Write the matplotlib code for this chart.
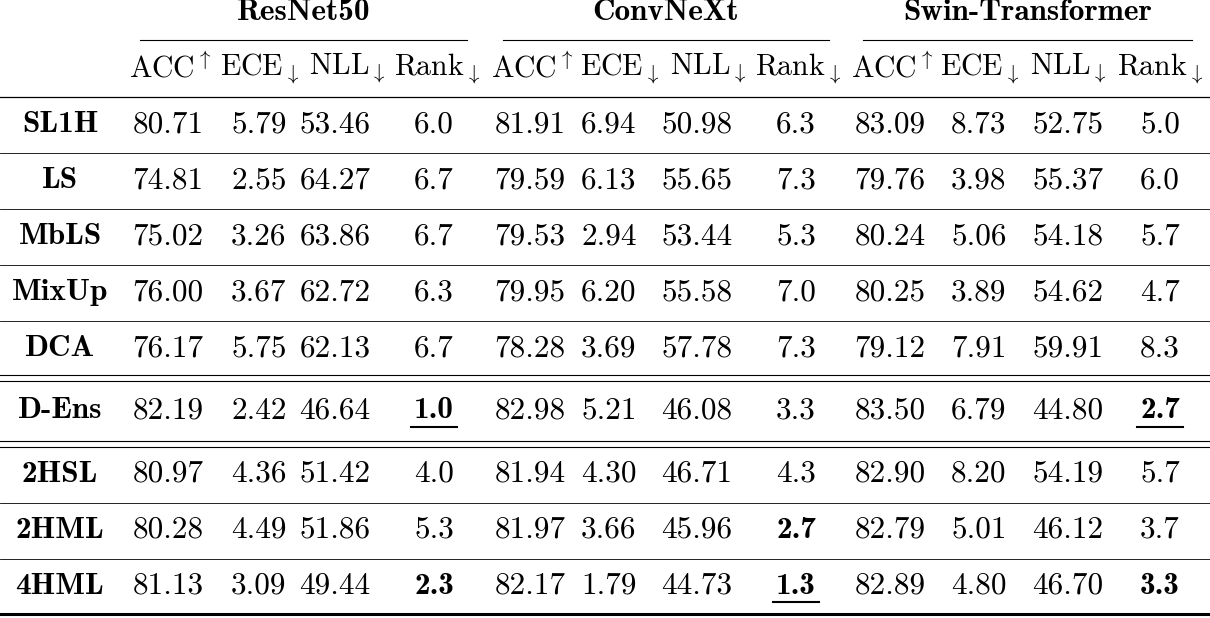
import matplotlib
matplotlib.use("Agg")
import matplotlib.pyplot as plt

plt.rcParams['mathtext.fontset'] = 'cm'
plt.rcParams['axes.unicode_minus'] = False

groups = ['ResNet50', 'ConvNeXt', 'Swin-Transformer']
metrics = [r'$\mathrm{ACC}^{\uparrow}$', r'$\mathrm{ECE}_{\downarrow}$',
           r'$\mathrm{NLL}_{\downarrow}$', r'$\mathrm{Rank}_{\downarrow}$']
methods = ['SL1H', 'LS', 'MbLS', 'MixUp', 'DCA', 'D-Ens', '2HSL', '2HML', '4HML']

resnet = [
    ['80.71', '5.79', '53.46', '6.0'],
    ['74.81', '2.55', '64.27', '6.7'],
    ['75.02', '3.26', '63.86', '6.7'],
    ['76.00', '3.67', '62.72', '6.3'],
    ['76.17', '5.75', '62.13', '6.7'],
    ['82.19', '2.42', '46.64', '1.0'],
    ['80.97', '4.36', '51.42', '4.0'],
    ['80.28', '4.49', '51.86', '5.3'],
    ['81.13', '3.09', '49.44', '2.3'],
]
convnext = [
    ['81.91', '6.94', '50.98', '6.3'],
    ['79.59', '6.13', '55.65', '7.3'],
    ['79.53', '2.94', '53.44', '5.3'],
    ['79.95', '6.20', '55.58', '7.0'],
    ['78.28', '3.69', '57.78', '7.3'],
    ['82.98', '5.21', '46.08', '3.3'],
    ['81.94', '4.30', '46.71', '4.3'],
    ['81.97', '3.66', '45.96', '2.7'],
    ['82.17', '1.79', '44.73', '1.3'],
]
swin = [
    ['83.09', '8.73', '52.75', '5.0'],
    ['79.76', '3.98', '55.37', '6.0'],
    ['80.24', '5.06', '54.18', '5.7'],
    ['80.25', '3.89', '54.62', '4.7'],
    ['79.12', '7.91', '59.91', '8.3'],
    ['83.50', '6.79', '44.80', '2.7'],
    ['82.90', '8.20', '54.19', '5.7'],
    ['82.79', '5.01', '46.12', '3.7'],
    ['82.89', '4.80', '46.70', '3.3'],
]
# (row, group, col): underline?
bold_cells = {(5, 0, 3): True, (5, 2, 3): True, (7, 1, 3): False,
              (8, 0, 3): False, (8, 1, 3): True, (8, 2, 3): False}

fig = plt.figure(figsize=(12.1, 6.18), dpi=100)
ax = fig.add_axes([0, 0, 1, 1])
ax.set_xlim(0, 1210)
ax.set_ylim(618, 0)
ax.axis('off')

fs = 22.5
col_x = [[168, 259, 335, 434], [530, 609, 697, 796], [890, 979, 1068, 1160]]
head_x = [[170, 260, 347, 437], [532, 620, 708, 798], [892, 980, 1068, 1160]]
group_span = [(140, 467), (503, 829), (863, 1192)]
row_y = [125, 181, 237, 293, 349, 411, 474, 530, 586]

for g, name in enumerate(groups):
    a, b = group_span[g]
    ax.text((a + b) / 2, 13, name, family='cmb10', fontsize=fs, ha='center', va='center')
    ax.plot([a, b], [40, 40], color='black', lw=0.8)
    for c, m in enumerate(metrics):
        ax.text(head_x[g][c], 68, m, fontsize=fs - 1, ha='center', va='center')

ax.plot([0, 1210], [97, 97], color='black', lw=0.9)
for y in [153, 209, 265, 321, 503, 559]:
    ax.plot([0, 1210], [y, y], color='black', lw=0.6)
for y in [375, 381, 441, 447]:
    ax.plot([0, 1210], [y, y], color='black', lw=0.8)
ax.plot([0, 1210], [614, 614], color='black', lw=2.2)

tables = [resnet, convnext, swin]
for r, meth in enumerate(methods):
    y = row_y[r]
    ax.text(60, y, meth, family='cmb10', fontsize=fs, ha='center', va='center')
    for g, tab in enumerate(tables):
        for c, val in enumerate(tab[r]):
            x = col_x[g][c]
            if (r, g, c) in bold_cells:
                ax.text(x, y, val, family='cmb10', fontsize=fs, ha='center', va='center')
                if bold_cells[(r, g, c)]:
                    ax.plot([x - 23, x + 23], [y + 16, y + 16], color='black', lw=1.5)
            else:
                ax.text(x, y, val, family='cmr10', fontsize=fs, ha='center', va='center')

fig.savefig('out.png', dpi=100)
